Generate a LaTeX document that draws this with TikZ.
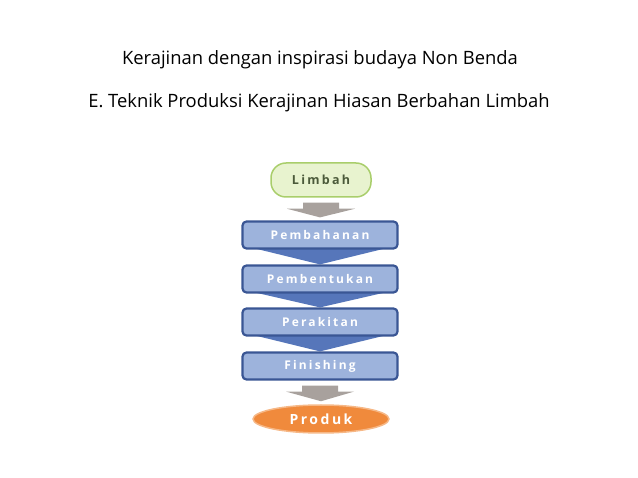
\documentclass[tikz,border=0pt]{standalone}
\usepackage{fontspec}
\setmainfont{Open Sans}
\newfontfamily\tahapfont[LetterSpace=18]{Open Sans}
\usetikzlibrary{calc,backgrounds,shapes.geometric}
\definecolor{birumuda}{HTML}{9DB3DC}
\definecolor{birutepi}{HTML}{3A5694}
\definecolor{birupanah}{HTML}{5676BA}
\definecolor{hijaumuda}{HTML}{E8F3CF}
\definecolor{hijautepi}{HTML}{A9CE6B}
\definecolor{hijauteks}{HTML}{4B5A3A}
\definecolor{oranye}{HTML}{F08A3C}
\definecolor{oranyetepi}{HTML}{F6B887}
\definecolor{abu}{HTML}{A8A19D}
\begin{document}
\begin{tikzpicture}[x=1pt,y=-1pt,
  tahap/.style={draw=birutepi,fill=birumuda,line width=2.2pt,rounded corners=4pt,minimum width=155pt,minimum height=27pt,text=white,font=\tahapfont\bfseries\fontsize{12}{14}\selectfont},
  limbahbox/.style={draw=hijautepi,fill=hijaumuda,line width=1.5pt,rounded corners=15pt,minimum width=100pt,minimum height=34pt,text=hijauteks,font=\tahapfont\bfseries\fontsize{12.5}{14}\selectfont},
  hasil/.style={ellipse,draw=oranyetepi,fill=oranye,line width=1.5pt,minimum width=136pt,minimum height=28pt,text=white,font=\tahapfont\bfseries\fontsize{14}{16}\selectfont}]
\useasboundingbox (0,0) rectangle (638,478);
\node (judul) at (320,60) {\fontsize{18.4}{22}\selectfont Kerajinan dengan inspirasi budaya Non Benda};
\node (subjudul) at (319,103) {\fontsize{18.4}{22}\selectfont E. Teknik Produksi Kerajinan Hiasan Berbahan Limbah};
\node[limbahbox] (limbah) at (321,180) {Limbah};
\node[tahap] (t1) at (320,235) {Pembahanan};
\node[tahap] (t2) at (320,279) {Pembentukan};
\node[tahap] (t3) at (320,322) {Perakitan};
\node[tahap] (t4) at (320,366) {Finishing};
\node[hasil] (produk) at (321,419) {Produk};
\begin{pgfonlayer}{background}
\foreach \a/\b in {t1/t2,t2/t3,t3/t4}
  \fill[birupanah] ($(\a.south west)+(14,-1)$) -- ($(\a.south east)+(-14,-1)$) -- (\b.north) -- cycle;
\end{pgfonlayer}
\foreach \a/\b in {limbah/t1,t4/produk}
  \fill[abu] ($(\a.south)+(-18,5)$) -- ($(\a.south)+(18,5)$) -- ($(\a.south)+(18,11)$) -- ($(\a.south)+(34,11)$)
    -- ($(\b.north)+(0,-3)$) -- ($(\a.south)+(-34,11)$) -- ($(\a.south)+(-18,11)$) -- cycle;
\end{tikzpicture}
\end{document}
